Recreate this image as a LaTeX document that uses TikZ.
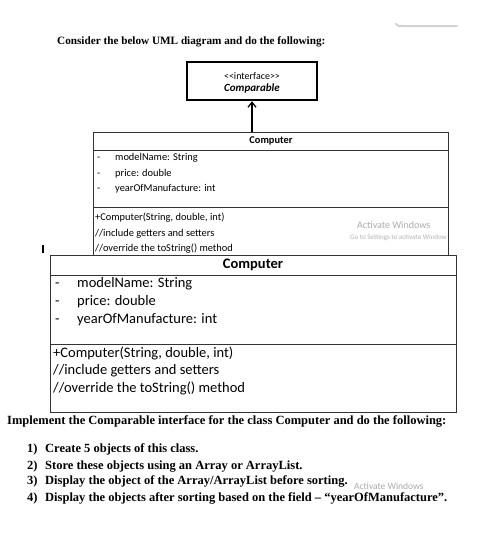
\documentclass[tikz,border=0pt]{standalone}
\usepackage{fontspec}
\setmainfont{Liberation Serif}
\newfontfamily\calfont{Carlito}
\usetikzlibrary{arrows.meta}
\begin{document}
\begin{tikzpicture}[x=1pt,y=-1pt,
  txt/.style={anchor=west,inner sep=0,text height=0.7em,text depth=0.2em},
  ttl/.style={txt,font=\fontsize{11.2}{13}\selectfont\bfseries},
  itm/.style={txt,font=\fontsize{12.5}{14}\selectfont\bfseries},
  sm/.style={txt,font=\calfont\fontsize{10.4}{12}\selectfont},
  bg/.style={txt,font=\calfont\fontsize{14.5}{17}\selectfont},
  wm/.style={txt,text=black!33,font=\calfont\fontsize{10}{12}\selectfont},
  wms/.style={txt,text=black!30,font=\calfont\fontsize{7}{8}\selectfont},
  boxline/.style={draw=black!80,line width=0.8pt}]
\useasboundingbox[fill=white] (0,0) rectangle (478,547);
% faint mark top right
\draw[line width=2pt,color=blue!10!black!18,line cap=round] (396,24) .. controls (398,26) .. (404,26) -- (457,26);
% title
\node[ttl] (t1) at (57,42) {Consider the below UML diagram and do the following:};
% interface box
\node[draw,line width=2.4pt,minimum width=130,minimum height=38,inner sep=0] (iface) at (252,81) {};
\node[inner sep=0,font=\calfont\fontsize{10}{12}\selectfont] (ilab) at (252,76) {<<interface>>};
\node[inner sep=0,font=\calfont\fontsize{11}{13}\selectfont\bfseries\itshape] (iname) at (252,89) {Comparable};
% first class box
\node[boxline,minimum width=355,minimum height=128,anchor=north west,inner sep=0] (c1) at (93,132) {};
\draw[boxline] ([yshift=-18pt]c1.north west) -- ([yshift=-18pt]c1.north east);
\draw[boxline] ([yshift=-75pt]c1.north west) -- ([yshift=-75pt]c1.north east);
\node[inner sep=0,font=\calfont\fontsize{10.4}{12}\selectfont\bfseries] (c1h) at (271,141) {Computer};
\node[sm] (d1) at (97,158) {-};
\node[sm] (a1) at (115,158) {modelName: String};
\node[sm] (d2) at (97,174) {-};
\node[sm] (a2) at (115,174) {price: double};
\node[sm] (d3) at (97,189) {-};
\node[sm] (a3) at (115,189) {yearOfManufacture: int};
\node[sm] (m1) at (95,218) {+Computer(String, double, int)};
\node[sm] (m2) at (95,234) {//include getters and setters};
\node[sm] (m3) at (95,249) {//override the toString() method};
\node[wm] (w1) at (357,226) {Activate Windows};
\node[wms] (w2) at (350,237) {Go to Settings to activate Window};
% arrow
\coordinate (as) at (iface.south |- c1.north);
\draw[line width=1.6pt,-{Straight Barb[length=5pt,width=8pt,line width=1.3pt]}] (as) -- (iface.south);
% cursor mark
\draw[line width=2pt] (43,245) -- (43,253);
% second class box
\node[boxline,fill=white,minimum width=406,minimum height=157,anchor=north west,inner sep=0] (c2) at (50,255) {};
\draw[boxline] ([yshift=-20pt]c2.north west) -- ([yshift=-20pt]c2.north east);
\draw[boxline] ([yshift=-89pt]c2.north west) -- ([yshift=-89pt]c2.north east);
\node[inner sep=0,font=\calfont\fontsize{14.5}{17}\selectfont\bfseries] (c2h) at (253,265) {Computer};
\node[bg] (e1) at (55,285) {-};
\node[bg] (b1) at (77,285) {modelName: String};
\node[bg] (e2) at (55,303) {-};
\node[bg] (b2) at (77,303) {price: double};
\node[bg] (e3) at (55,321) {-};
\node[bg] (b3) at (77,321) {yearOfManufacture: int};
\node[bg] (n1) at (53,355) {+Computer(String, double, int)};
\node[bg] (n2) at (53,372) {//include getters and setters};
\node[bg] (n3) at (53,390) {//override the toString() method};
% instructions
\node[itm] (t2) at (7,422) {Implement the Comparable interface for the class Computer and do the following:};
\node[itm] (l1n) at (27,450) {1)};
\node[itm] (l1) at (45,450) {Create 5 objects of this class.};
\node[itm] (l2n) at (27,467) {2)};
\node[itm] (l2) at (45,467) {Store these objects using an Array or ArrayList.};
\node[itm] (l3n) at (27,482) {3)};
\node[itm] (l3) at (45,482) {Display the object of the Array/ArrayList before sorting.};
\node[wm,font=\calfont\fontsize{9.5}{11}\selectfont,text height=0.6em,text depth=0.1em] (w3) at (354,487) {Activate Windows};
\node[itm] (l4n) at (27,499) {4)};
\node[itm] (l4) at (45,499) {Display the objects after sorting based on the field – “yearOfManufacture”.};
\end{tikzpicture}
\end{document}
